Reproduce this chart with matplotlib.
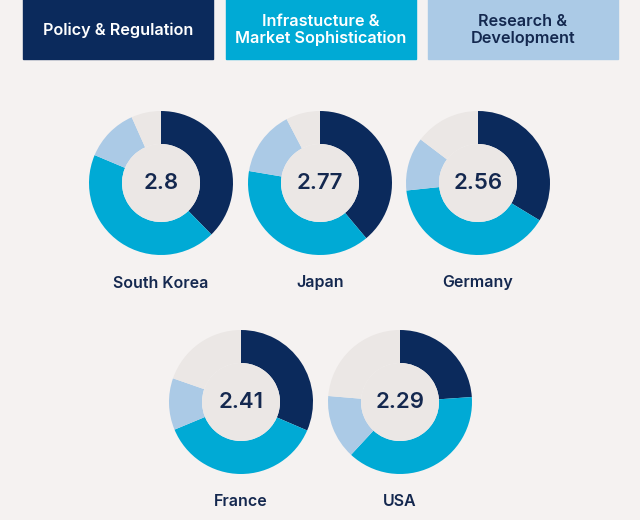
import matplotlib.pyplot as plt
from matplotlib.patches import Rectangle, Circle

# Scores per country (out of 3), split into the three pillars
countries = ['South Korea', 'Japan', 'Germany', 'France', 'USA']
scores = [2.8, 2.77, 2.56, 2.41, 2.29]
policy = [1.13, 1.167, 1.01, 0.944, 0.717]
infra = [1.31, 1.163, 1.19, 1.118, 1.14]
research = [0.36, 0.44, 0.36, 0.348, 0.433]
max_score = 3.0

legend_labels = ['Policy & Regulation', 'Infrastucture &\nMarket Sophistication', 'Research &\nDevelopment']

navy = '#0b2a5c'
cyan = '#00aad5'
light = '#abcae6'
grey = '#ebe7e5'
bg = '#f5f2f1'
text_col = '#14284f'

plt.rcParams['font.family'] = ['Inter', 'DejaVu Sans']

fig = plt.figure(figsize=(6.4, 5.2), dpi=100)
fig.patch.set_facecolor(bg)
ax = fig.add_axes([0, 0, 1, 1])
ax.set_facecolor(bg)

H = 520
# legend boxes
box_x = [23, 226, 428]
box_col = [navy, cyan, light]
box_txt = ['white', 'white', text_col]
for x0, c, tc, lab in zip(box_x, box_col, box_txt, legend_labels):
    ax.add_patch(Rectangle((x0, H - 59), 190, 62, color=c, zorder=1))
    ax.text(x0 + 95, H - 30, lab, ha='center', va='center', color=tc,
            fontsize=11.7, fontweight='semibold', linespacing=1.2)

# donut positions (pixels)
cx = [161, 320, 478, 241, 400]
cy = [183, 183, 183, 402, 402]
r_out = 72
r_in = 39

for i in range(len(countries)):
    rest = max_score - policy[i] - infra[i] - research[i]
    vals = [policy[i], infra[i], research[i], rest]
    ax.pie(vals, colors=[navy, cyan, light, grey], startangle=90, counterclock=False,
           center=(cx[i], H - cy[i]), radius=r_out, frame=True,
           wedgeprops=dict(width=r_out - r_in, linewidth=0))
    ax.add_patch(Circle((cx[i], H - cy[i]), r_in, color=grey, lw=0, zorder=3))
    ax.text(cx[i], H - cy[i], str(scores[i]), ha='center', va='center', color=text_col,
            fontsize=16, fontweight='semibold', zorder=4)
    ax.text(cx[i], H - cy[i] - 100, countries[i], ha='center', va='center', color=text_col,
            fontsize=11.5, fontweight='semibold')

ax.set_xlim(0, 640)
ax.set_ylim(0, H)
ax.set_aspect('equal')
ax.axis('off')

fig.savefig('out.png', dpi=100, facecolor=bg)
